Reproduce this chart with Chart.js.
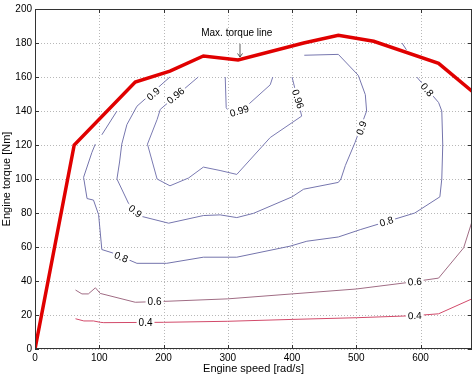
<!DOCTYPE html>
<html>
<head>
<meta charset="utf-8">
<script src="https://cdn.jsdelivr.net/npm/chart.js@4.4.0/dist/chart.umd.min.js"></script>
<style>
  html, body { margin: 0; padding: 0; background: #fff; }
  #wrap { width: 474px; height: 376px; }
</style>
</head>
<body>
<div id="wrap"><canvas id="myChart" width="474" height="376"></canvas></div>
<script>
// curva de par maximo
const maxSpeed  = [0, 61, 156, 210, 262, 316, 418, 472, 527, 628, 680];
const maxTorque = [0, 120, 157, 163.5, 172.4, 170, 180, 184.5, 181, 168, 151.6];

// curvas de eficiencia (null = corte de la linea)
const eff04Speed  = [63, 76, 91, 101.5, 107, 200, 300, 400, 500, 590, 628, 680];
const eff04Torque = [17.8, 16.5, 16.5, 15.7, 15.5, 15.7, 16.3, 17.4, 18.4, 19.6, 20.7, 29.5];

const eff06Speed  = [63, 73, 83, 94, 101.5, 156, 200, 300, 400, 500, 578, 628, 667, 680];
const eff06Torque = [34.7, 32.4, 32.4, 36, 32.7, 27.5, 28, 29.5, 32.4, 35.3, 39, 41.7, 59.5, 75];

const eff08Speed  = [571, 578, null, 594, 628, 633, 634.5, 633, 630, 591, 506, 472, 423, 397, 314, 262, 205, 158.6, 120, 104, 99, 91, 81, 75.6, 88.6, 93.8, null, 104, 127.5];
const eff08Torque = [180, 176, null, 160, 145, 140, 120, 100, 89.5, 80, 70.2, 65.9, 63.4, 60.5, 54, 54, 50.4, 50.4, 56.6, 58.5, 79, 87.6, 88.5, 101, 115.7, 120.5, null, 126, 140];

const eff09Speed  = [419, 472, 503, 514, 516, 498, 483, 476, 472, 418, 400, 340, 314, 288, 262, 208, 166, 145.6, 127.5, 131.6, 135, 143, 158.6, 210];
const eff09Torque = [172.8, 173.3, 161, 149.6, 140, 121.5, 108, 100, 98, 94, 89.5, 79.8, 77.3, 78.9, 78.5, 74, 78, 85.6, 100, 110, 120.5, 132, 142.8, 160];

const eff096Speed  = [254, 195, 190, 175, 190, 210, 239, 262, 288, 314, 366, 415, 400];
const eff096Torque = [160, 141, 135, 120.5, 100, 96, 100.6, 107, 105, 102.7, 124.4, 137, 160];

const eff099Speed  = [296, 297.5, 301, 332, 366, 370];
const eff099Torque = [160, 142, 140, 143.8, 155.4, 160];

// etiquetas de las curvas: texto, velocidad, par, angulo
const contourLabels = [
  ['0.9', 184, 150, -41], ['0.96', 219, 149, -40], ['0.99', 318, 140, -17],
  ['0.96', 409, 147, 72], ['0.9', 508, 130, -70], ['0.8', 610, 152.5, 50],
  ['0.9', 156, 81, 38], ['0.8', 134, 54, 22], ['0.8', 547, 75, -17],
  ['0.6', 186, 27.6, 0], ['0.6', 591, 39.5, -4], ['0.4', 172, 15.5, 0], ['0.4', 591, 19.6, -2]
];

const xTicksMax = 680;
const yTicksMax = 200;

function toPoints(xs, ys) {
  return xs.map((x, i) => ({ x: x, y: ys[i] }));
}

function contour(label, xs, ys, color) {
  return {
    label: label,
    data: toPoints(xs, ys),
    showLine: true,
    borderColor: color,
    borderWidth: 1,
    pointRadius: 0,
    spanGaps: false,
    tension: 0
  };
}

const FONT = '"Liberation Sans", Arial, sans-serif';

// rejilla punteada (estilo matlab)
const gridPlugin = {
  id: 'dotgrid',
  beforeDatasetsDraw(chart) {
    const c = chart.ctx;
    const xs = chart.scales.x, ys = chart.scales.y;
    const a = chart.chartArea;
    c.save();
    c.strokeStyle = '#b8b8b8';
    c.lineWidth = 1;
    c.setLineDash([1, 2]);
    c.beginPath();
    xs.ticks.forEach(t => {
      const p = Math.round(xs.getPixelForValue(t.value)) + 0.5;
      c.moveTo(p, a.top); c.lineTo(p, a.bottom);
    });
    ys.ticks.forEach(t => {
      const p = Math.round(ys.getPixelForValue(t.value)) + 0.5;
      c.moveTo(a.left, p); c.lineTo(a.right, p);
    });
    c.stroke();
    c.restore();
  }
};

// marco, marcas interiores y etiquetas
const decorPlugin = {
  id: 'decor',
  afterDatasetsDraw(chart) {
    const c = chart.ctx;
    const xs = chart.scales.x, ys = chart.scales.y;
    c.save();
    c.font = '10px ' + FONT;
    c.textAlign = 'center';
    c.textBaseline = 'middle';
    contourLabels.forEach(l => {
      const px = xs.getPixelForValue(l[1]);
      const py = ys.getPixelForValue(l[2]);
      c.save();
      c.translate(px, py);
      c.rotate(l[3] * Math.PI / 180);
      const w = c.measureText(l[0]).width;
      c.fillStyle = '#fff';
      c.fillRect(-w / 2 - 2, -5, w + 4, 10);
      c.fillStyle = '#000';
      c.fillText(l[0], 0, 0.5);
      c.restore();
    });

    // anotacion de par maximo
    const ax = xs.getPixelForValue(319);
    c.fillStyle = '#000';
    c.fillText('Max. torque line', xs.getPixelForValue(314), ys.getPixelForValue(185.5));
    const top = ys.getPixelForValue(179.5), bot = ys.getPixelForValue(171.8);
    c.strokeStyle = '#333';
    c.lineWidth = 0.8;
    c.beginPath();
    c.moveTo(ax, top); c.lineTo(ax, bot);
    c.moveTo(ax - 2.5, bot - 3.5); c.lineTo(ax, bot); c.lineTo(ax + 2.5, bot - 3.5);
    c.stroke();

    const a = chart.chartArea;
    c.strokeStyle = '#333';
    c.lineWidth = 1;
    c.beginPath();
    xs.ticks.forEach(t => {
      const p = Math.round(xs.getPixelForValue(t.value)) + 0.5;
      c.moveTo(p, a.bottom); c.lineTo(p, a.bottom - 4);
      c.moveTo(p, a.top); c.lineTo(p, a.top + 4);
    });
    ys.ticks.forEach(t => {
      const p = Math.round(ys.getPixelForValue(t.value)) + 0.5;
      c.moveTo(a.left, p); c.lineTo(a.left + 4, p);
      c.moveTo(a.right, p); c.lineTo(a.right - 4, p);
    });
    c.stroke();
    c.strokeRect(a.left + 0.5, a.top + 0.5, a.right - a.left - 1, a.bottom - a.top - 1);
    c.restore();
  }
};

const ctx = document.getElementById('myChart').getContext('2d');
const chart = new Chart(ctx, {
  type: 'scatter',
  data: {
    datasets: [
      contour('0.4', eff04Speed, eff04Torque, '#d24a6a'),
      contour('0.6', eff06Speed, eff06Torque, '#a06c84'),
      contour('0.8', eff08Speed, eff08Torque, '#7474ac'),
      contour('0.9', eff09Speed, eff09Torque, '#7676ae'),
      contour('0.96', eff096Speed, eff096Torque, '#7a7ab2'),
      contour('0.99', eff099Speed, eff099Torque, '#7a7ab2'),
      {
        label: 'Max. torque line',
        data: toPoints(maxSpeed, maxTorque),
        showLine: true,
        borderColor: '#e00000',
        borderWidth: 3.5,
        pointRadius: 0,
        tension: 0
      }
    ]
  },
  options: {
    responsive: false,
    animation: false,
    events: [],
    layout: { padding: { top: 5, right: 2, left: 0, bottom: 0 } },
    plugins: { legend: { display: false }, tooltip: { enabled: false } },
    scales: {
      x: {
        type: 'linear',
        min: 0,
        max: xTicksMax,
        afterFit(s) { s.height = 27; },
        ticks: { stepSize: 100, includeBounds: false, padding: 3, color: '#000', font: { family: FONT, size: 10 }, maxRotation: 0 },
        grid: { display: false, drawTicks: false },
        border: { display: false },
        title: { display: true, text: 'Engine speed [rad/s]', color: '#000', font: { family: FONT, size: 11 }, padding: { top: 0, bottom: 0 } }
      },
      y: {
        type: 'linear',
        min: 0,
        max: yTicksMax,
        afterFit(s) { s.width = 35; },
        ticks: { stepSize: 20, padding: 3, color: '#000', font: { family: FONT, size: 10 } },
        grid: { display: false, drawTicks: false },
        border: { display: false },
        title: { display: true, text: 'Engine torque [Nm]', color: '#000', font: { family: FONT, size: 11 }, padding: { top: 0, bottom: 0 } }
      }
    }
  },
  plugins: [gridPlugin, decorPlugin]
});
</script>
</body>
</html>
